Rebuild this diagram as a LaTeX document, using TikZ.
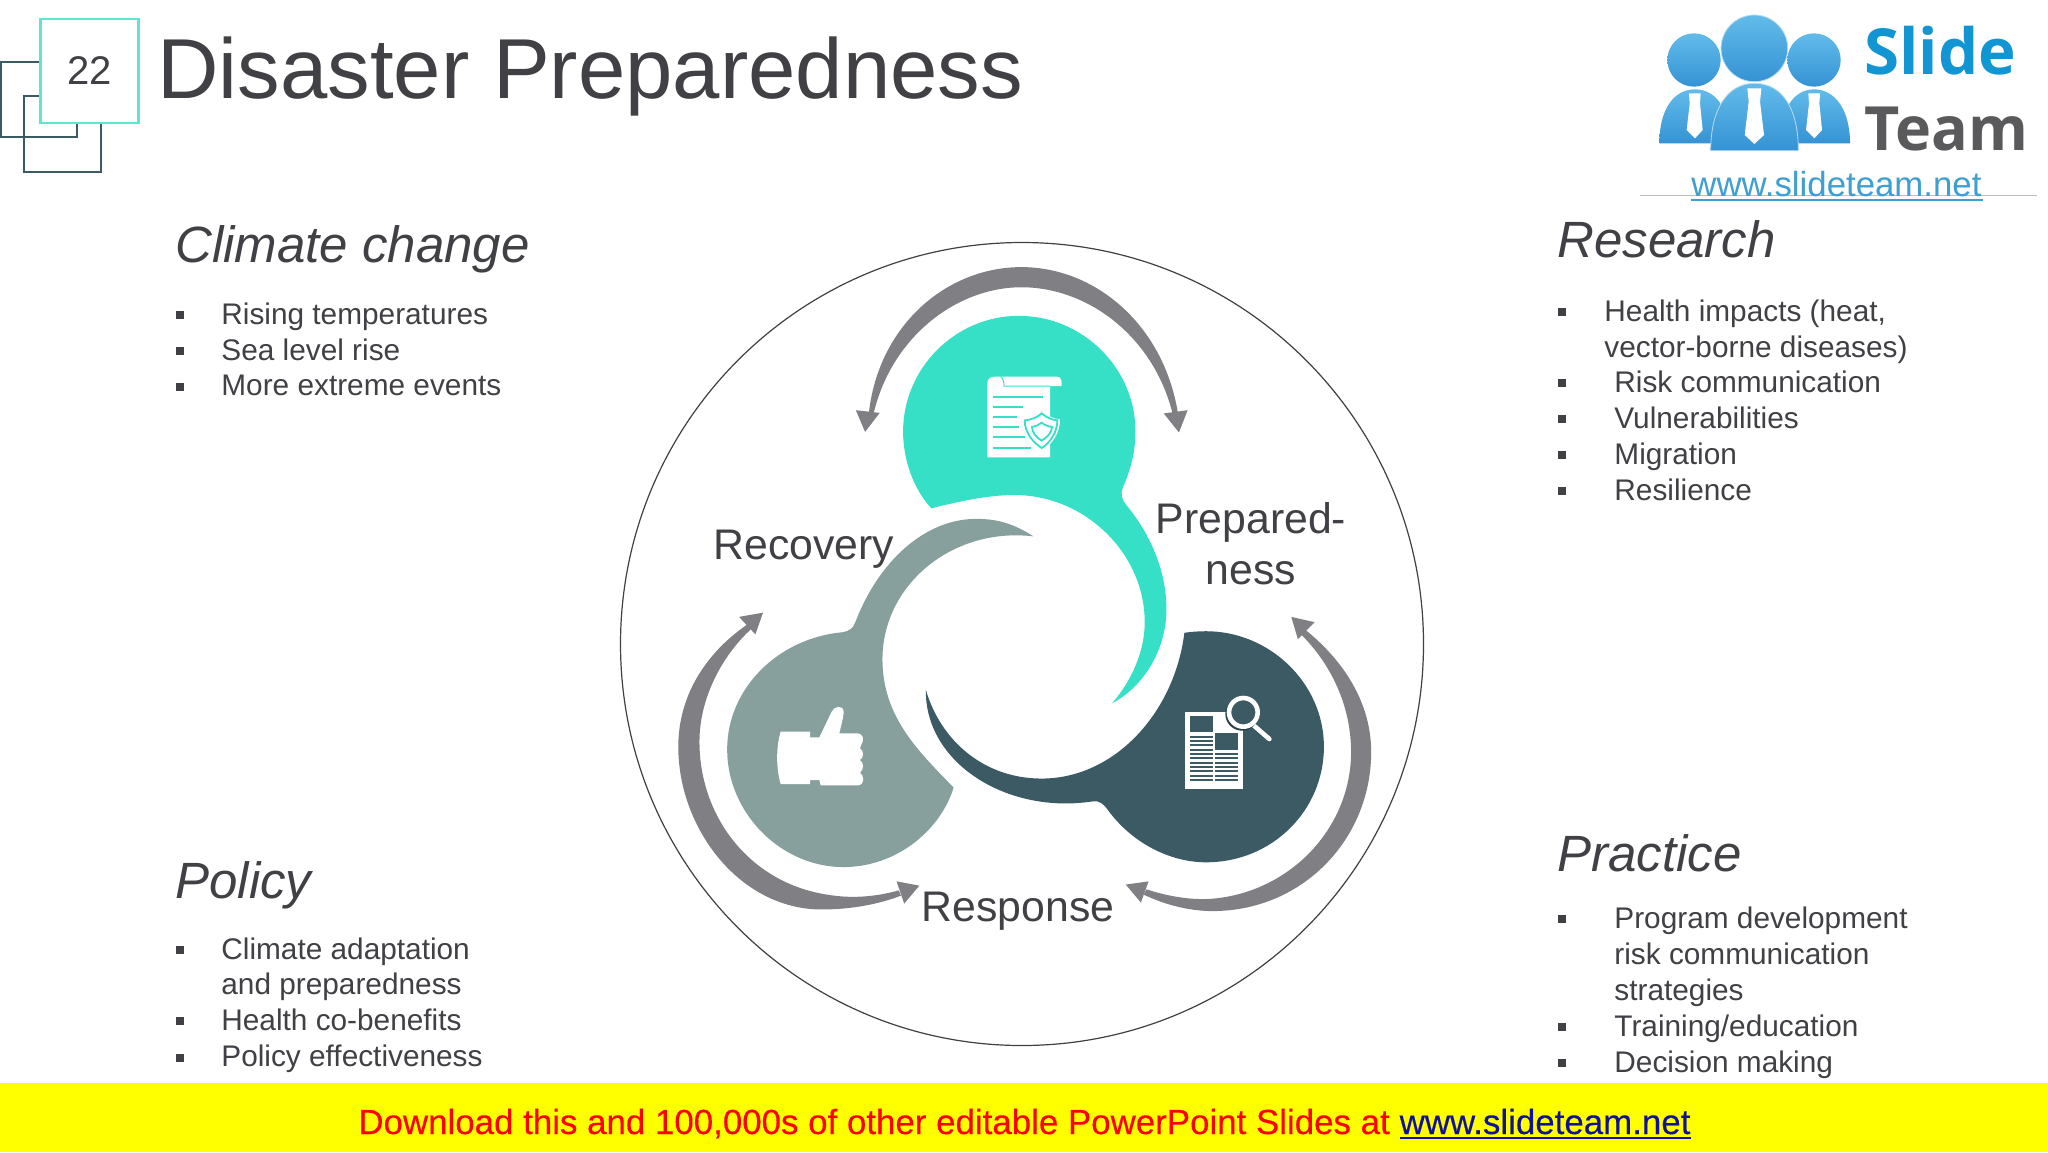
\documentclass[tikz,border=0pt]{standalone}
\usepackage{fontspec}
\setmainfont{Liberation Sans}
\newfontfamily\logofont{Open Sans}
\newfontfamily\footfont[FakeBold=0.25]{Liberation Sans}
\usetikzlibrary{shadings}
\definecolor{ink}{HTML}{404045}
\definecolor{tealc}{HTML}{36E0C6}
\definecolor{sagec}{HTML}{87A09E}
\definecolor{darkc}{HTML}{3B5A64}
\definecolor{arrowc}{HTML}{807F84}
\definecolor{logoblue}{HTML}{4AA6DC}
\definecolor{logotop}{HTML}{62BBEA}
\definecolor{logobot}{HTML}{3593D4}
\definecolor{slideblue}{HTML}{1195D3}
\definecolor{teamgray}{HTML}{5A5A5C}
\definecolor{linkblue}{HTML}{3E9FD0}
\definecolor{bandyellow}{HTML}{FFFF00}
\definecolor{footred}{HTML}{FF0000}
\definecolor{footblue}{HTML}{10109A}
\tikzset{
  titletext/.style={anchor=base west,inner sep=0,text=ink,font=\fontsize{42.55}{50}\selectfont},
  headtext/.style={anchor=base west,inner sep=0,text=ink,font=\fontsize{25.5}{30}\selectfont\itshape},
  bodytext/.style={anchor=base west,inner sep=0,text=ink,align=left,font=\fontsize{14.9}{18}\selectfont},
  cycletext/.style={anchor=center,inner sep=0,text=ink,align=center,font=\fontsize{21.4}{25.5}\selectfont},
  bulletmark/.style={fill=ink,inner sep=0,minimum size=4pt,draw=none},
  gear/.style={fill=arrowc,draw=none},
  darkframe/.style={draw=darkc,line width=1pt},
  zoomscope/.style={shift={(599,230)},x=.2715pt,y=-.265pt},
  thirdscope/.style={x=.16667pt,y=-.16667pt},
  person/.style={top color=logotop,bottom color=logobot,draw=none},
}
\newcommand{\bul}[5]{%
  \node[bulletmark] (m#1) at (#2,#4-9) {};
  \node[bodytext] (t#1) at (#3,#4) {#5};}
\begin{document}
\begin{tikzpicture}[x=.5pt,y=-.5pt]
\useasboundingbox (0,0) rectangle (2048,1152);
\fill[white] (0,0) rectangle (2048,1152);

% page number frames
\draw[darkframe] (1,62) rectangle (77,137);
\draw[darkframe] (24,96) rectangle (101,172);
\node[draw=tealc!80!white,fill=white,line width=1.2pt,minimum width=49pt,minimum height=52pt,inner sep=0,text=ink,font=\fontsize{20}{24}\selectfont] (pagenum) at (89.5,71) {22};
\node[titletext] (title) at (157,98) {Disaster Preparedness};

% logo
\begin{scope}[shift={(1620,0)},thirdscope]
\shade[person] (118,430) .. controls (118,330) and (160,268) .. (225,268) .. controls (290,268) and (330,330) .. (330,430) -- cycle;
\shade[person] (690,430) .. controls (690,330) and (645,268) .. (582,268) .. controls (520,268) and (480,330) .. (480,430) -- cycle;
\shade[person,draw=white!60!logoblue,line width=.4pt] (272,452) .. controls (272,330) and (320,250) .. (403,250) .. controls (490,250) and (535,330) .. (535,452) -- cycle;
\shade[person] (222,180) circle[radius=80];
\shade[person] (582,180) circle[radius=80];
\shade[person,draw=white!60!logoblue,line width=.4pt] (403,145) circle[radius=100];
\fill[white] (207,280) -- (242,280) -- (240,310) -- (248,390) -- (225,415) -- (200,390) -- (209,310) -- cycle;
\fill[white] (565,280) -- (600,280) -- (598,310) -- (606,390) -- (583,415) -- (558,390) -- (567,310) -- cycle;
\fill[white] (382,265) -- (424,265) -- (420,305) -- (432,405) -- (403,432) -- (374,405) -- (386,305) -- cycle;
\end{scope}
\node[anchor=base west,inner sep=0,text=slideblue,font=\logofont\bfseries\fontsize{31.8}{36}\selectfont] (slide) at (1864,74) {Slide};
\node[anchor=base west,inner sep=0,text=teamgray,font=\logofont\bfseries\fontsize{30.5}{36}\selectfont] (team) at (1864,150) {Team};
\coordinate (logoA) at (1640,195);
\coordinate (logoB) at (2037,195);
\draw[black!25,line width=.5pt] (logoA) -- (logoB);
\node[anchor=base west,inner sep=0,text=linkblue,font=\fontsize{17.4}{20}\selectfont] (logourl) at (1691,196) {www.slideteam.net};
\coordinate (urlA) at (1691,200);
\coordinate (urlB) at (1983,200);
\draw[linkblue,line width=1pt] (urlA) -- (urlB);

% left and right texts
\node[headtext] (h1) at (175,262) {Climate change};
\bul{a1}{180}{221}{324}{Rising temperatures}
\bul{a2}{180}{221}{360}{Sea level rise}
\bul{a3}{180}{221}{395.5}{More extreme events}

\node[headtext] (h2) at (1557,257) {Research};
\bul{b1}{1562}{1604}{321}{Health impacts (heat,}
\node[bodytext] (b1b) at (1604,357) {vector-borne diseases)};
\bul{b2}{1562}{1614}{392}{Risk communication}
\bul{b3}{1562}{1614}{428}{Vulnerabilities}
\bul{b4}{1562}{1614}{464}{Migration}
\bul{b5}{1562}{1614}{500}{Resilience}

\node[headtext] (h3) at (175,898) {Policy};
\bul{c1}{180}{221}{959}{Climate adaptation}
\node[bodytext] (c1b) at (221,994.5) {and preparedness};
\bul{c2}{180}{221}{1030}{Health co-benefits}
\bul{c3}{180}{221}{1066.5}{Policy effectiveness}

\node[headtext] (h4) at (1557,871) {Practice};
\bul{d1}{1562}{1614}{928}{Program development}
\node[bodytext] (d1b) at (1614,964) {risk communication};
\node[bodytext] (d1c) at (1614,1000) {strategies};
\bul{d2}{1562}{1614}{1036}{Training/education}
\bul{d3}{1562}{1614}{1072}{Decision making}

% central diagram
\draw[ink,line width=.6pt] (1022,644) circle[radius=401.5];

\begin{scope}[zoomscope]
% grey arrows
\path[gear] (497,345) .. controls (515,180) and (640,70) .. (778,70) .. controls (915,70) and (1040,180) .. (1066,345) -- (1056,345) .. controls (1020,200) and (900,108) .. (778,108) .. controls (660,108) and (540,200) .. (506,345) -- cycle;
\path[gear] (490,381) -- (473,340) -- (517,345) -- cycle;
\path[gear] (1068,382) -- (1040,346) -- (1084,340) -- cycle;

\path[gear] (272,745) .. controls (195,800) and (146,880) .. (146,975) .. controls (146,1130) and (260,1282) .. (410,1282) .. controls (465,1282) and (515,1272) .. (556,1256) -- (552,1246) .. controls (510,1258) and (465,1262) .. (420,1254) .. controls (280,1232) and (185,1110) .. (185,965) .. controls (185,885) and (225,805) .. (280,753) -- cycle;
\path[gear] (302,722) -- (258,730) -- (288,763) -- cycle;
\path[gear] (590,1237) -- (548,1229) -- (562,1271) -- cycle;

\path[gear] (1298,752) .. controls (1375,815) and (1422,895) .. (1422,985) .. controls (1422,1150) and (1295,1285) .. (1130,1285) .. controls (1085,1285) and (1040,1272) .. (1003,1254) -- (1008,1244) .. controls (1050,1258) and (1090,1264) .. (1125,1262) .. controls (1270,1252) and (1385,1130) .. (1385,985) .. controls (1385,900) and (1350,820) .. (1290,760) -- cycle;
\path[gear] (1275,730) -- (1318,740) -- (1287,772) -- cycle;
\path[gear] (970,1235) -- (1012,1229) -- (998,1269) -- cycle;

% three lobes
\fill[tealc] (612,525) .. controls (580,490) and (560,435) .. (560,380) .. controls (560,262) and (655,162) .. (773,162) .. controls (892,162) and (988,262) .. (988,380) .. controls (988,420) and (978,455) .. (965,485) .. controls (960,497) and (962,508) .. (972,520) .. controls (1020,580) and (1045,650) .. (1045,715) .. controls (1045,790) and (1005,860) .. (945,893) .. controls (985,845) and (1005,790) .. (1005,740) .. controls (1005,610) and (895,500) .. (765,500) .. controls (715,500) and (665,512) .. (612,525) -- cycle;
\fill[sagec] (800,578) .. controls (765,555) and (735,545) .. (695,545) .. controls (600,545) and (515,625) .. (472,740) .. controls (468,752) and (460,757) .. (448,759) .. controls (330,770) and (236,865) .. (236,980) .. controls (236,1100) and (335,1202) .. (450,1202) .. controls (550,1202) and (630,1130) .. (653,1052) .. controls (590,985) and (522,920) .. (522,810) .. controls (522,670) and (650,560) .. (800,578) -- cycle;
\fill[darkc] (602,868) .. controls (600,990) and (720,1082) .. (860,1082) .. controls (880,1082) and (895,1080) .. (910,1078) .. controls (922,1076) and (930,1084) .. (937,1094) .. controls (980,1155) and (1050,1193) .. (1118,1193) .. controls (1240,1193) and (1335,1095) .. (1335,975) .. controls (1335,855) and (1235,757) .. (1118,757) .. controls (1105,757) and (1090,758) .. (1078,760) .. controls (1060,910) and (950,1035) .. (815,1035) .. controls (710,1035) and (630,965) .. (602,868) -- cycle;
\end{scope}

% document icon
\begin{scope}[shift={(900,340)},thirdscope]
\fill[white] (262,352) -- (262,130) .. controls (262,116) and (272,110) .. (285,110) -- (470,110) .. controls (480,110) and (485,118) .. (485,128) -- (485,138) -- (450,138) -- (450,352) -- cycle;
\draw[tealc,line width=.5pt] (302,110) .. controls (310,115) and (312,128) .. (312,138) -- (450,138);
\foreach \yy/\xx in {170/430,201/368,232/350,262/358,292/375,323/392}
  \draw[tealc,line width=1pt] (280,\yy) -- (\xx,\yy);
\fill[white] (425,212) .. controls (440,228) and (460,236) .. (480,238) .. controls (480,280) and (455,315) .. (425,332) .. controls (395,315) and (366,280) .. (366,238) .. controls (390,236) and (410,228) .. (425,212) -- cycle;
\draw[tealc,line width=.9pt] (425,220) .. controls (438,232) and (455,239) .. (472,241) .. controls (472,278) and (450,308) .. (425,324) .. controls (400,308) and (374,278) .. (374,241) .. controls (395,239) and (412,232) .. (425,220) -- cycle;
\draw[tealc,line width=.9pt] (425,248) .. controls (433,255) and (445,259) .. (456,261) .. controls (456,278) and (440,293) .. (425,302) .. controls (410,293) and (396,278) .. (396,261) .. controls (407,259) and (417,255) .. (425,248) -- cycle;
\end{scope}

% newspaper icon
\begin{scope}[shift={(1140,670)},thirdscope]
\fill[white] (135,127) rectangle (310,358);
\fill[darkc] (150,137) rectangle (218,187);
\fill[darkc] (225,190) rectangle (295,240);
\foreach \yy in {197,210,223,236,249,262,275,288,301,314,327}
  \fill[darkc] (150,\yy) rectangle (218,\yy+6);
\foreach \yy in {249,262,275,288,301,314,327}
  \fill[darkc] (225,\yy) rectangle (295,\yy+6);
\draw[white,line width=2.3pt,line cap=round] (342,167) -- (388,207);
\fill[darkc!70!black] (306,132) circle[radius=50];
\draw[white,line width=2.3pt,fill=darkc] (310,127) circle[radius=43];
\end{scope}

% thumb icon
\begin{scope}[shift={(740,680)},thirdscope]
\fill[white] (122,155) -- (210,155) -- (210,172) -- (238,172) -- (275,95) .. controls (282,78) and (312,72) .. (311,98) .. controls (309,120) and (302,140) .. (298,160) -- (352,160) .. controls (365,160) and (372,172) .. (368,185) .. controls (366,195) and (358,200) .. (360,205) .. controls (372,212) and (372,232) .. (360,240) .. controls (372,248) and (372,268) .. (360,278) .. controls (372,286) and (376,312) .. (355,316) -- (242,316) -- (238,300) -- (210,300) -- (210,312) -- (122,312) .. controls (108,265) and (108,200) .. (122,155) -- cycle;
\end{scope}

% cycle labels
\node[cycletext] (recovery) at (804,549) {Recovery};
\node[cycletext] (prepared) at (1251,544) {Prepared-\\ness};
\node[cycletext] (response) at (1018,911) {Response};

% footer
\fill[bandyellow] (0,1083) rectangle (2048,1152);
\node[anchor=base west,inner sep=0,font=\footfont\fontsize{17.44}{20}\selectfont] (footer) at (358,1134) {\textcolor{footred}{Download this and 100,000s of other editable PowerPoint Slides at }\textcolor{footblue}{www.slideteam.net}};
\coordinate (footA) at (1400,1138);
\coordinate (footB) at (1691,1138);
\draw[footblue,line width=.8pt] (footA) -- (footB);
\end{tikzpicture}
\end{document}
